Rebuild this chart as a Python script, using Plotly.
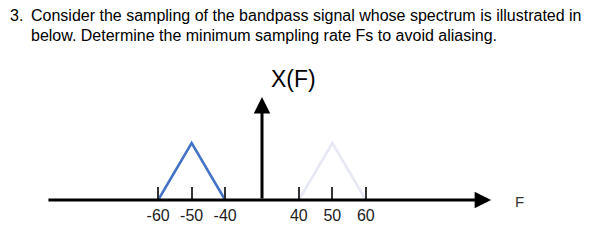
import plotly.graph_objects as go

# ---- data ----
neg_band_f = [-60, -50, -40]
neg_band_amp = [0, 1, 0]
pos_band_f = [40, 50, 60]
pos_band_amp = [0, 1, 0]
tick_freqs = [-60, -50, -40, 40, 50, 60]
tick_labels = ["-60", "-50", "-40", "40", "50", "60"]
title_num = "3."
title_lines = ["Consider the sampling of the bandpass signal whose spectrum is illustrated in",
               "below. Determine the minimum sampling rate Fs to avoid aliasing."]

# drawing is not to scale: the gap around F=0 is compressed
GAP = 29.0
def disp(f):
    if f > 0:
        return f - GAP
    if f < 0:
        return f + GAP
    return 0.0

W, H = 591, 246
PX_PER_X = 3.35
X0_PX = 262
PX_PER_Y = 57
Y0_PX = 200
x_range = [(0 - X0_PX) / PX_PER_X, (W - X0_PX) / PX_PER_X]
y_range = [-(H - Y0_PX) / PX_PER_Y, Y0_PX / PX_PER_Y]
FONT = "Liberation Sans, Arial"

fig = go.Figure()
fig.add_trace(go.Scatter(x=[disp(f) for f in pos_band_f], y=pos_band_amp, mode="lines",
                         line=dict(color="#E6E8F4", width=2.5), hoverinfo="skip"))
fig.add_trace(go.Scatter(x=[disp(f) for f in neg_band_f], y=neg_band_amp, mode="lines",
                         line=dict(color="#4472C4", width=2.5), hoverinfo="skip"))

# horizontal axis arrow
fig.add_annotation(x=68.4, y=0, ax=-64.2, ay=0, xref="x", yref="y", axref="x", ayref="y",
                   showarrow=True, arrowhead=2, arrowsize=1.1, arrowwidth=3, arrowcolor="black", text="")
# vertical axis arrow
fig.add_annotation(x=0, y=(Y0_PX - 97) / PX_PER_Y, ax=0, ay=0, xref="x", yref="y", axref="x", ayref="y",
                   showarrow=True, arrowhead=2, arrowsize=1.1, arrowwidth=3, arrowcolor="black", text="")
fig.add_annotation(x=(293 - X0_PX) / PX_PER_X, y=(Y0_PX - 79) / PX_PER_Y, text="X(F)", showarrow=False,
                   font=dict(family=FONT, size=23, color="black"))
fig.add_annotation(x=(519 - X0_PX) / PX_PER_X, y=-1 / PX_PER_Y, text="F", showarrow=False,
                   font=dict(family=FONT, size=15, color="#333333"))

# title lines
fig.add_annotation(x=8 / W, y=1 - 15 / H, xref="paper", yref="paper", text=title_num, showarrow=False,
                   xanchor="left", yanchor="middle", font=dict(family=FONT, size=16, color="black"))
for i, line in enumerate(title_lines):
    fig.add_annotation(x=29 / W, y=1 - (15 + 20 * i) / H, xref="paper", yref="paper", text=line,
                       showarrow=False, xanchor="left", yanchor="middle",
                       font=dict(family=FONT, size=16, color="black"))

fig.update_layout(
    width=W, height=H, margin=dict(l=0, r=0, t=0, b=0),
    paper_bgcolor="white", plot_bgcolor="white", showlegend=False,
    xaxis=dict(range=x_range, anchor="free", position=1 - Y0_PX / H, showgrid=False, zeroline=False,
               showline=False, ticks="inside", ticklen=13, tickwidth=1.5, tickcolor="#333333",
               tickvals=[disp(f) for f in tick_freqs], ticktext=tick_labels, ticklabelstandoff=4,
               tickfont=dict(family=FONT, size=16, color="#222222"),
               fixedrange=True),
    yaxis=dict(range=y_range, visible=False, fixedrange=True),
)
fig.write_html("out.html")
